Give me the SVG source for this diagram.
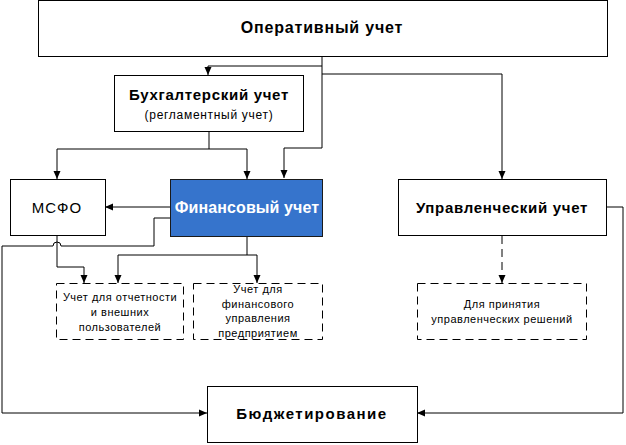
<svg xmlns="http://www.w3.org/2000/svg" width="626" height="445" viewBox="0 0 626 445">
<defs>
<style>
.box{fill:#fff;stroke:#000;stroke-width:1}
.dbox{fill:#fff;stroke:#000;stroke-width:1;stroke-dasharray:8,5}
.ln{fill:none;stroke:#000;stroke-width:1}
.dln{fill:none;stroke:#000;stroke-width:1;stroke-dasharray:8,5}
.t{font-family:"Liberation Sans",Arial,sans-serif;text-anchor:middle;fill:#000}
.b{font-weight:bold;font-size:15px;letter-spacing:0.7px}
.s{font-size:11px;letter-spacing:0.5px}
</style>
<marker id="ar" viewBox="0 0 8 8" refX="8" refY="4" markerWidth="8" markerHeight="8" markerUnits="userSpaceOnUse" orient="auto">
<path d="M0,0.5 L8,4 L0,7.5 Z" fill="#000"/>
</marker>
</defs>
<rect width="626" height="445" fill="#fff"/>
<g id="connectors">
<path class="ln" d="M322,57 V148 H284 V178" marker-end="url(#ar)"/>
<path class="ln" d="M322,66 H208 V75" marker-end="url(#ar)"/>
<path class="ln" d="M322,74 H502 V179" marker-end="url(#ar)"/>
<path class="ln" d="M209,132 V149 H57 V179" marker-end="url(#ar)"/>
<path class="ln" d="M209,149 H247 V179" marker-end="url(#ar)"/>
<path class="ln" d="M170,207 H105" marker-end="url(#ar)"/>
<path class="ln" d="M170,218 H154 V246 H61 A4,4 0 0 0 53,246 H2 V413 H207" marker-end="url(#ar)"/>
<path class="ln" d="M57,236 V267 H84 V283" marker-end="url(#ar)"/>
<path class="ln" d="M247,237 V255 H118 V283" marker-end="url(#ar)"/>
<path class="ln" d="M247,255 H257 V283" marker-end="url(#ar)"/>
<path class="dln" d="M502,236 V283" marker-end="url(#ar)"/>
<path class="ln" d="M606,207 H623 V413 H417" marker-end="url(#ar)"/>
</g>
<g id="operational">
<rect class="box" x="38.5" y="0.5" width="569" height="56"/>
<text class="t b" x="322" y="33" style="font-size:16px;letter-spacing:0.8px">Оперативный учет</text>
</g>
<g id="accounting">
<rect class="box" x="114.5" y="75.5" width="189" height="56"/>
<text class="t b" x="209" y="100">Бухгалтерский учет</text>
<text class="t" x="209" y="119" font-size="12" letter-spacing="0.7">(регламентный учет)</text>
</g>
<g id="msfo">
<rect class="box" x="10.5" y="179.5" width="95" height="56"/>
<text class="t" x="57" y="213" font-size="15" letter-spacing="1">МСФО</text>
</g>
<g id="financial">
<rect x="170.5" y="179.5" width="152" height="57" fill="#3674CC" stroke="#1a1a1a" stroke-width="1"/>
<text class="t b" x="247" y="213" style="fill:#fff;font-size:16px;letter-spacing:0.1px">Финансовый учет</text>
</g>
<g id="management">
<rect class="box" x="398.5" y="179.5" width="208" height="56"/>
<text class="t b" x="502" y="213">Управленческий учет</text>
</g>
<g id="reporting">
<rect class="dbox" x="56.5" y="283.5" width="127" height="56"/>
<text class="t s" x="120" y="301">Учет для отчетности</text>
<text class="t s" x="120" y="316">и внешних</text>
<text class="t s" x="120" y="331">пользователей</text>
</g>
<g id="fin-management">
<rect class="dbox" x="193.5" y="283.5" width="129" height="56"/>
<text class="t s" x="258" y="293">Учет для</text>
<text class="t s" x="258" y="308">финансового</text>
<text class="t s" x="258" y="322">управления</text>
<text class="t s" x="258" y="337">предприятием</text>
</g>
<g id="decisions">
<rect class="dbox" x="417.5" y="283.5" width="169" height="56"/>
<text class="t s" x="502" y="308">Для принятия</text>
<text class="t s" x="502" y="323">управленческих решений</text>
</g>
<g id="budgeting">
<rect class="box" x="207.5" y="386.5" width="210" height="56"/>
<text class="t b" x="312" y="419" style="letter-spacing:1.5px">Бюджетирование</text>
</g>
</svg>
